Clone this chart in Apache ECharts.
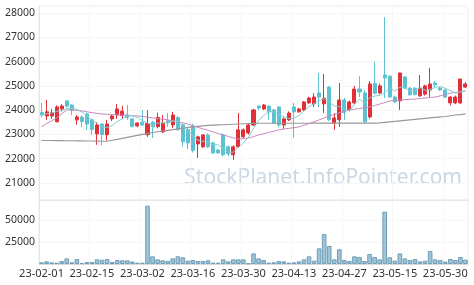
<!DOCTYPE html>
<html><head><meta charset="utf-8">
<script src="https://cdn.jsdelivr.net/npm/echarts@6/dist/echarts.min.js"></script>
<style>html,body{margin:0;padding:0;background:#fff}#c{width:474px;height:285px}</style>
</head><body><div id="c"></div>
<script>
const dates = ["23-02-01","23-02-02","23-02-03","23-02-06","23-02-07","23-02-08","23-02-09","23-02-10","23-02-13","23-02-14",
"23-02-15","23-02-16","23-02-17","23-02-20","23-02-21","23-02-22","23-02-23","23-02-24","23-02-27","23-02-28",
"23-03-02","23-03-03","23-03-06","23-03-07","23-03-08","23-03-09","23-03-10","23-03-13","23-03-14","23-03-15",
"23-03-16","23-03-17","23-03-20","23-03-21","23-03-22","23-03-23","23-03-24","23-03-27","23-03-28","23-03-29",
"23-03-30","23-03-31","23-04-03","23-04-04","23-04-05","23-04-06","23-04-07","23-04-10","23-04-11","23-04-12",
"23-04-13","23-04-14","23-04-17","23-04-18","23-04-19","23-04-20","23-04-21","23-04-24","23-04-25","23-04-26",
"23-04-27","23-04-28","23-05-02","23-05-03","23-05-04","23-05-08","23-05-09","23-05-10","23-05-11","23-05-12",
"23-05-15","23-05-16","23-05-17","23-05-18","23-05-19","23-05-22","23-05-23","23-05-24","23-05-25","23-05-26",
"23-05-30","23-05-31","23-06-01","23-06-02","23-06-05"];
const opens = [23900,23760,23760,23520,24050,24380,24210,23600,23720,23840,
23600,23020,23430,22990,23640,23800,23780,23800,23640,23350,
23500,22990,23500,23320,23100,23560,23390,23700,23400,23200,
23350,22610,22490,22980,22650,22360,22980,22490,22160,22490,
22900,23060,23390,24170,24050,24170,24010,24130,23390,23600,
24130,23930,24010,24300,24260,24710,24260,24950,23470,23600,
24420,24010,24300,24870,24710,23720,25100,24710,25450,25400,
24540,24380,25370,24910,24900,24590,24660,24830,25120,24910,
24830,24300,24300,24300,24950];
const closes = [23800,23930,23900,24130,24170,24170,24000,23720,23530,23430,
23200,23390,23000,23430,23760,24050,23960,23700,23320,23470,
23390,23450,23320,23700,23470,23480,23800,23200,22700,22650,
22350,22900,22980,22490,22240,22240,22160,22200,22490,23190,
23190,23390,24010,24090,24210,23930,23470,23390,23640,23880,
23930,24050,24340,24500,24540,24540,24500,23600,23680,24420,
23900,24340,24870,24750,23520,25080,24700,25000,25330,24540,
24340,25530,24910,24630,24650,24910,25000,25080,25040,24830,
24540,24540,24540,25280,25080];
const lows = [23700,23600,23650,23500,23950,24100,23800,23400,23300,23180,
22980,22570,22550,22750,23550,23640,23640,23600,23300,23300,
23350,22900,22850,23250,23060,23310,23270,23150,22500,22400,
22250,22030,22450,22450,22200,22200,22100,22100,21950,22450,
22850,23000,23350,24000,24000,23600,23450,23300,23230,23550,
22860,23900,23970,24250,24130,24130,23880,23550,23190,23310,
23600,23950,24250,24540,23450,23650,24650,24650,24500,24500,
24300,24010,24870,24600,24600,24550,24600,24540,24950,24800,
24500,24200,24250,24250,24900];
const highs = [24300,24420,24050,24200,24250,24400,24250,23800,23780,23900,
23650,23510,23450,23600,23800,24250,24180,24210,23650,23500,
24000,24000,23550,23900,23800,23880,23930,23750,23450,23300,
23450,22950,23000,23050,22700,22400,23050,22550,22550,23880,
23250,23450,24050,24200,24250,24200,24050,24150,23700,23950,
24300,24100,24380,24550,24700,25530,25490,25000,23880,25120,
24500,24400,25000,25400,24830,25200,26000,25100,27830,25450,
24600,25550,25400,24950,24950,25450,25050,25740,25200,24950,
24870,24580,24600,25300,25150];
const volumes = [1900,3000,1900,1500,3400,6400,1900,5700,1100,2300,
2300,5300,4900,5700,2300,4500,4200,4200,2700,1500,
1500,66300,8700,5300,4200,3400,6400,8700,7600,3800,
4500,3400,3400,4200,1500,1500,5300,3000,5300,5300,
5300,700,12100,6400,4500,1500,1900,3400,3000,1500,
1900,3000,5300,8700,3800,17800,34100,20500,5300,16700,
4500,3400,8700,8000,3400,11400,8000,5300,59500,7600,
3800,12100,6400,4500,5700,3000,3800,14800,5300,4500,
2700,5700,4500,8000,5000];
const ma5 = [23800,23850,23880,23950,23990,24060,24070,24040,23920,23770,
23580,23450,23310,23290,23360,23530,23640,23780,23760,23700,
23570,23470,23390,23470,23470,23480,23550,23530,23330,23170,
22940,22760,22720,22670,22590,22570,22420,22270,22270,22460,
22650,22890,23250,23570,23780,23930,23940,23820,23730,23660,
23660,23780,23970,24140,24270,24390,24480,24340,24170,24150,
24020,23990,24240,24460,24280,24510,24580,24610,24720,24930,
24780,24950,24930,24790,24810,24930,24820,24850,24940,24970,
24900,24810,24700,24750,24800];
const ma20 = [23310,23450,23560,23680,23850,24010,24000,23990,23970,23930,
23900,23870,23840,23830,23820,23810,23800,23790,23770,23760,
23740,23710,23680,23650,23630,23600,23560,23520,23480,23430,
23360,23290,23230,23170,23100,23040,22980,22920,22860,22810,
22820,22850,22910,22980,23030,23080,23130,23190,23220,23250,
23280,23310,23380,23450,23520,23600,23680,23760,23820,23890,
23950,24010,24040,24070,24100,24130,24190,24250,24310,24380,
24400,24420,24430,24450,24460,24480,24500,24520,24540,24590,
24640,24700,24730,24760,24790];
const ma60 = [22750,22750,22750,22745,22745,22740,22740,22735,22735,22730,
22730,22725,22720,22720,22760,22800,22840,22880,22920,22960,
23000,23040,23080,23110,23140,23170,23200,23230,23260,23290,
23310,23330,23350,23370,23380,23390,23400,23410,23420,23430,
23440,23450,23455,23460,23460,23460,23460,23460,23460,23460,
23460,23460,23460,23460,23465,23465,23465,23465,23465,23465,
23465,23465,23470,23470,23470,23470,23470,23480,23500,23520,
23540,23560,23580,23600,23620,23640,23660,23680,23700,23720,
23740,23770,23800,23820,23850];
const watermark = "StockPlanet.InfoPointer.com";

const kdata = dates.map((d, i) => [opens[i], closes[i], lows[i], highs[i]]);
const FONT = '"Noto Sans", sans-serif';
const chart = echarts.init(document.getElementById('c'), null, {renderer: 'canvas'});
const splitStyle = {color: '#f6f6f6', width: 1};
const plain = v => String(v);
chart.setOption({
  animation: false,
  backgroundColor: '#fff',
  grid: [
    {left: 39, right: 6, top: 6, height: 194, show: true, borderColor: '#ececec', borderWidth: 1},
    {left: 39, right: 6, top: 200, height: 64, show: true, borderColor: '#ececec', borderWidth: 1}
  ],
  xAxis: [
    {type: 'category', gridIndex: 0, data: dates, boundaryGap: true,
     axisLine: {show: true, lineStyle: {color: '#e6e6e6'}}, axisTick: {show: false}, axisLabel: {show: false},
     splitLine: {show: true, interval: 9, lineStyle: splitStyle}},
    {type: 'category', gridIndex: 1, data: dates, boundaryGap: true,
     axisLine: {show: true, lineStyle: {color: '#d8d8d8'}}, axisTick: {show: false},
     axisLabel: {interval: 9, fontSize: 11, color: '#333', margin: 4, fontFamily: FONT},
     splitLine: {show: true, interval: 9, lineStyle: splitStyle}}
  ],
  yAxis: [
    {type: 'value', gridIndex: 0, min: 20300, max: 28290, splitNumber: 8, scale: true,
     axisLine: {show: true, lineStyle: {color: '#e6e6e6'}}, axisTick: {show: false},
     axisLabel: {fontSize: 10.5, color: '#333', margin: 4, fontFamily: FONT, formatter: plain, showMinLabel: false, showMaxLabel: false},
     splitLine: {show: true, lineStyle: splitStyle}},
    {type: 'value', gridIndex: 1, min: 0, max: 72800, interval: 25000,
     axisLine: {show: true, lineStyle: {color: '#e6e6e6'}}, axisTick: {show: false},
     axisLabel: {fontSize: 10.5, color: '#333', margin: 4, fontFamily: FONT, formatter: plain, showMinLabel: false, showMaxLabel: false},
     splitLine: {show: true, lineStyle: splitStyle}}
  ],
  graphic: [{type: 'text', right: 12, top: 168, z: 0,
    style: {text: watermark, font: '21px "Noto Sans", sans-serif', fill: '#cbd8e3'}}],
  series: [
    {type: 'candlestick', xAxisIndex: 0, yAxisIndex: 0, data: kdata, barWidth: '70%',
     itemStyle: {color: '#e0303a', color0: '#5cc2d2', borderColor: '#e0303a', borderColor0: '#5cc2d2', borderWidth: 1}},
    {type: 'line', xAxisIndex: 0, yAxisIndex: 0, data: ma60, symbol: 'none', lineStyle: {color: '#999999', width: 1.2}},
    {type: 'line', xAxisIndex: 0, yAxisIndex: 0, data: ma20, symbol: 'none', lineStyle: {color: '#c889bd', width: 1}},
    {type: 'line', xAxisIndex: 0, yAxisIndex: 0, data: ma5, symbol: 'none', lineStyle: {color: '#86cccd', width: 1}},
    {type: 'bar', xAxisIndex: 1, yAxisIndex: 1, data: volumes, barCategoryGap: '8%',
     itemStyle: {color: '#9ec4d6', borderColor: '#6f9fb8', borderWidth: 1}}
  ]
});
</script></body></html>
